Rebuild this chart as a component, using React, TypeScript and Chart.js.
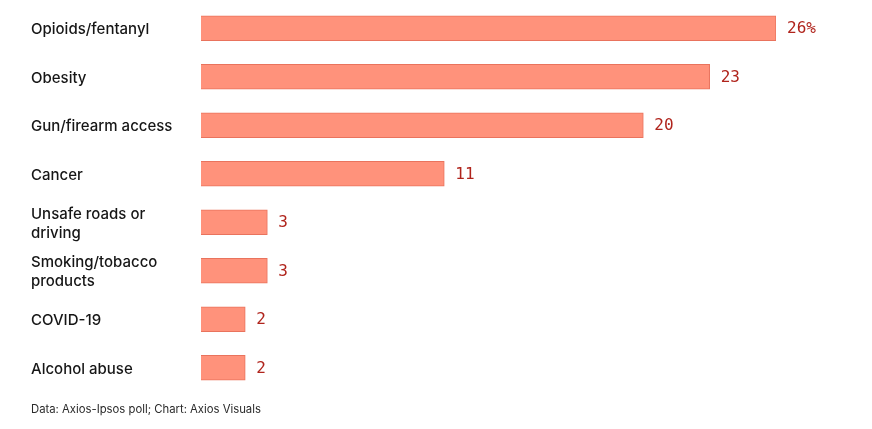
import React, { useEffect, useRef } from "react";
import { Chart, registerables } from "chart.js";

Chart.register(...registerables);

const categories: string[][] = [
  ["Opioids/fentanyl"],
  ["Obesity"],
  ["Gun/firearm access"],
  ["Cancer"],
  ["Unsafe roads or", "driving"],
  ["Smoking/tobacco", "products"],
  ["COVID-19"],
  ["Alcohol abuse"],
];
const values = [26, 23, 20, 11, 3, 3, 2, 2];
const valueLabels = ["26%", "23", "20", "11", "3", "3", "2", "2"];
const footnote = "Data: Axios-Ipsos poll; Chart: Axios Visuals";

const BAR_FILL = "#ff927b";
const BAR_BORDER = "#e9735d";
const VALUE_COLOR = "#b0241c";

const labelsPlugin = {
  id: "customLabels",
  afterDatasetsDraw(chart: any) {
    const ctx = chart.ctx;
    const meta = chart.getDatasetMeta(0);
    ctx.save();
    // value labels
    ctx.font = "16px 'DejaVu Sans Mono', monospace";
    ctx.fillStyle = VALUE_COLOR;
    ctx.textAlign = "left";
    ctx.textBaseline = "middle";
    meta.data.forEach((bar: any, i: number) => {
      ctx.fillText(valueLabels[i], bar.x + 11, bar.y + 1);
    });
    // category labels
    ctx.font = "500 15px Inter, 'Noto Sans', sans-serif";
    ctx.fillStyle = "#161616";
    const lh = 19;
    meta.data.forEach((bar: any, i: number) => {
      const lines = categories[i];
      const start = bar.y + 1.5 - ((lines.length - 1) * lh) / 2;
      lines.forEach((ln, j) => ctx.fillText(ln, 31, start + j * lh));
    });
    ctx.restore();
  },
};

export default function App() {
  const ref = useRef<HTMLCanvasElement | null>(null);

  useEffect(() => {
    if (!ref.current) return;
    const chart = new Chart(ref.current, {
      type: "bar",
      data: {
        labels: categories.map((c) => c.join(" ")),
        datasets: [
          {
            data: values,
            backgroundColor: BAR_FILL,
            borderColor: BAR_BORDER,
            borderWidth: 1,
            barThickness: 25,
          },
        ],
      },
      options: {
        indexAxis: "y",
        responsive: false,
        animation: false,
        layout: { padding: { left: 201, right: 96, top: 4, bottom: 37 } },
        plugins: {
          legend: { display: false },
          tooltip: { enabled: false },
        },
        scales: {
          x: { display: false, min: 0, max: 26 },
          y: { display: false },
        },
      },
      plugins: [labelsPlugin],
    });
    return () => chart.destroy();
  }, []);

  return (
    <div style={{ position: "absolute", left: 0, top: 0, width: 872, height: 429, background: "#fff" }}>
      <canvas ref={ref} width={872} height={429} />
      <div
        style={{
          position: "absolute",
          left: 31,
          top: 402,
          fontFamily: "Inter, 'Noto Sans', sans-serif",
          fontSize: 11.3,
          color: "#2a2a2a",
          whiteSpace: "nowrap",
        }}
      >
        {footnote}
      </div>
    </div>
  );
}
